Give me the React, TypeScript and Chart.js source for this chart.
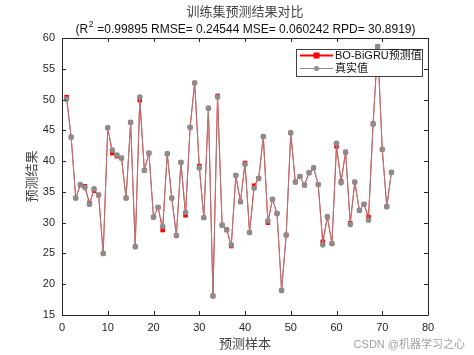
import React, { useEffect, useRef } from "react";
import { Chart, registerables } from "chart.js";

Chart.register(...registerables);

const TITLE = "训练集预测结果对比";
const SUBTITLE_PARTS = ["(R", "2", " =0.99895 RMSE= 0.24544 MSE= 0.060242 RPD= 30.8919)"];
const X_LABEL = "预测样本";
const Y_LABEL = "预测结果";
const SERIES_PRED = "BO-BiGRU预测值";
const SERIES_TRUE = "真实值";
const WATERMARK = "CSDN @机器学习之心";

const predicted = [
  50.4, 43.9, 34.0, 36.1, 35.9, 33.2, 35.2, 34.5, 25.0, 45.4,
  41.3, 40.8, 40.5, 34.0, 46.3, 26.1, 49.9, 38.5, 41.3, 30.9,
  32.5, 28.8, 41.2, 34.0, 27.9, 39.8, 31.2, 45.5, 52.7, 39.2,
  30.8, 48.6, 18.1, 50.6, 29.6, 28.8, 26.2, 37.7, 33.4, 39.7,
  28.4, 36.0, 37.2, 44.0, 30.0, 33.8, 31.5, 19.0, 28.0, 44.6,
  36.6, 37.5, 36.1, 38.1, 38.9, 36.2, 26.9, 30.9, 26.6, 42.4,
  36.7, 41.5, 29.9, 36.6, 32.0, 33.0, 30.9, 46.1, 58.6, 41.9,
  32.6, 38.2,
];

const actual = [
  50.1, 43.9, 34.0, 36.2, 35.7, 33.0, 35.5, 34.5, 25.0, 45.4,
  41.8, 41.0, 40.5, 34.0, 46.3, 26.1, 50.4, 38.5, 41.3, 30.9,
  32.5, 29.4, 41.2, 34.0, 27.9, 39.8, 31.7, 45.5, 52.7, 38.9,
  30.8, 48.6, 18.1, 50.4, 29.6, 28.9, 26.4, 37.7, 33.4, 39.5,
  28.4, 35.6, 37.2, 44.0, 30.3, 33.8, 31.5, 19.0, 28.0, 44.6,
  36.6, 37.5, 36.1, 38.1, 38.9, 36.2, 26.4, 31.0, 26.6, 42.9,
  36.5, 41.4, 29.7, 36.6, 32.0, 33.0, 30.4, 46.0, 58.6, 41.9,
  32.6, 38.2,
];

const X_MIN = 0;
const X_MAX = 80;
const X_STEP = 10;
const Y_MIN = 15;
const Y_MAX = 60;
const Y_STEP = 5;

const AXIS_COLOR = "#262626";
const RED = "#ff0000";
const GRAY = "#8c8c8c";
const GRAY_LINE = "rgba(150,150,150,0.8)";

const W = 474;
const H = 355;
const AREA = { left: 62, top: 38, right: 428, bottom: 315 };

const decorPlugin = {
  id: "decor",
  afterDraw(chart: any) {
    const ctx = chart.ctx as CanvasRenderingContext2D;
    const { left, top, right, bottom } = chart.chartArea;
    const xs = chart.scales.x;
    const ys = chart.scales.y;
    ctx.save();
    ctx.strokeStyle = AXIS_COLOR;
    ctx.lineWidth = 1;
    ctx.beginPath();
    ctx.rect(Math.round(left) + 0.5, Math.round(top) + 0.5, Math.round(right - left), Math.round(bottom - top));
    ctx.stroke();
    const tl = 4;
    ctx.beginPath();
    for (let v = X_MIN; v <= X_MAX; v += X_STEP) {
      const px = Math.round(xs.getPixelForValue(v)) + 0.5;
      ctx.moveTo(px, bottom);
      ctx.lineTo(px, bottom - tl);
      ctx.moveTo(px, top);
      ctx.lineTo(px, top + tl);
    }
    for (let v = Y_MIN; v <= Y_MAX; v += Y_STEP) {
      const py = Math.round(ys.getPixelForValue(v)) + 0.5;
      ctx.moveTo(left, py);
      ctx.lineTo(left + tl, py);
      ctx.moveTo(right, py);
      ctx.lineTo(right - tl, py);
    }
    ctx.stroke();

    ctx.fillStyle = "#444444";
    ctx.textAlign = "center";
    ctx.textBaseline = "middle";
    ctx.font = "13px 'Noto Sans CJK SC'";
    ctx.fillText(TITLE, 245, 11);

    ctx.fillStyle = "#111111";
    const mainFont = "12px 'Liberation Sans', Arial";
    const supFont = "8.5px 'Liberation Sans', Arial";
    ctx.font = mainFont;
    const w0 = ctx.measureText(SUBTITLE_PARTS[0]).width;
    const w2 = ctx.measureText(SUBTITLE_PARTS[2]).width;
    ctx.font = supFont;
    const w1 = ctx.measureText(SUBTITLE_PARTS[1]).width;
    const total = w0 + w1 + w2;
    const x0 = 245 - total / 2;
    ctx.textAlign = "left";
    ctx.font = mainFont;
    ctx.fillText(SUBTITLE_PARTS[0], x0, 30);
    ctx.font = supFont;
    ctx.fillText(SUBTITLE_PARTS[1], x0 + w0 + 0.5, 25);
    ctx.font = mainFont;
    ctx.fillText(SUBTITLE_PARTS[2], x0 + w0 + w1 + 1, 30);

    const lx = 296, ly = 49, lw = 126, lh = 27;
    ctx.fillStyle = "#ffffff";
    ctx.fillRect(lx, ly, lw, lh);
    ctx.strokeStyle = "#404040";
    ctx.lineWidth = 1;
    ctx.strokeRect(lx + 0.5, ly + 0.5, lw, lh);
    const r1 = 55.5, r2 = 68.5;
    ctx.strokeStyle = RED;
    ctx.lineWidth = 1.8;
    ctx.beginPath();
    ctx.moveTo(300, r1);
    ctx.lineTo(333, r1);
    ctx.stroke();
    ctx.fillStyle = RED;
    ctx.fillRect(313.5, r1 - 3, 6, 6);
    ctx.strokeStyle = GRAY;
    ctx.lineWidth = 1;
    ctx.beginPath();
    ctx.moveTo(300, r2);
    ctx.lineTo(333, r2);
    ctx.stroke();
    ctx.fillStyle = GRAY;
    ctx.beginPath();
    ctx.arc(316.5, r2, 2.5, 0, Math.PI * 2);
    ctx.fill();
    ctx.fillStyle = "#111111";
    ctx.textAlign = "left";
    ctx.font = "11px 'Liberation Sans', Arial, 'Noto Sans CJK SC'";
    ctx.fillText(SERIES_PRED, 335, r1);
    ctx.fillText(SERIES_TRUE, 335, r2);

    ctx.fillStyle = "#a0a0a0";
    ctx.font = "11px 'Liberation Sans', Arial, 'Noto Sans CJK SC'";
    ctx.textAlign = "right";
    ctx.fillText(WATERMARK, 465, 345);
    ctx.restore();
  },
};

export default function App() {
  const ref = useRef<HTMLCanvasElement | null>(null);
  useEffect(() => {
    if (!ref.current) return;
    const predPoints = predicted.map((v, i) => ({ x: i + 1, y: v }));
    const truePoints = actual.map((v, i) => ({ x: i + 1, y: v }));
    const chart = new Chart(ref.current, {
      type: "line",
      data: {
        datasets: [
          {
            label: SERIES_TRUE,
            data: truePoints,
            borderColor: GRAY_LINE,
            backgroundColor: GRAY,
            borderWidth: 1,
            pointStyle: "circle",
            pointRadius: 2.8,
            pointBorderWidth: 0,
            pointBackgroundColor: GRAY,
            tension: 0,
            order: 1,
          },
          {
            label: SERIES_PRED,
            data: predPoints,
            borderColor: RED,
            backgroundColor: RED,
            borderWidth: 1,
            pointStyle: "rect",
            pointRadius: 3.2,
            pointBorderWidth: 0,
            pointBackgroundColor: RED,
            tension: 0,
            order: 2,
          },
        ],
      },
      options: {
        responsive: false,
        animation: false,
        layout: { padding: { left: 0, top: AREA.top, right: W - AREA.right, bottom: 0 } },
        plugins: { legend: { display: false }, title: { display: false }, tooltip: { enabled: false } },
        scales: {
          x: {
            type: "linear",
            min: X_MIN,
            max: X_MAX,
            grid: { display: false, drawTicks: false },
            border: { display: false },
            ticks: {
              stepSize: X_STEP,
              padding: 6,
              color: AXIS_COLOR,
              font: { family: "'Liberation Sans', Arial", size: 11 },
              maxRotation: 0,
            },
            title: {
              display: true,
              text: X_LABEL,
              color: "#444444",
              font: { family: "'Noto Sans CJK SC'", size: 13 },
              padding: { top: 0, bottom: 4 },
            },
            afterFit: (s: any) => {
              s.height = H - AREA.bottom;
            },
          },
          y: {
            min: Y_MIN,
            max: Y_MAX,
            grid: { display: false, drawTicks: false },
            border: { display: false },
            ticks: {
              stepSize: Y_STEP,
              padding: 7,
              color: AXIS_COLOR,
              font: { family: "'Liberation Sans', Arial", size: 11 },
            },
            title: {
              display: true,
              text: Y_LABEL,
              color: "#444444",
              font: { family: "'Noto Sans CJK SC'", size: 13 },
              padding: { top: 23, bottom: 0 },
            },
            afterFit: (s: any) => {
              s.width = AREA.left;
            },
          },
        },
      },
      plugins: [decorPlugin],
    });
    return () => chart.destroy();
  }, []);
  return (
    <div style={{ position: "fixed", left: 0, top: 0, width: W, height: H, background: "#fff" }}>
      <canvas ref={ref} width={W} height={H} style={{ width: W, height: H }} />
    </div>
  );
}
